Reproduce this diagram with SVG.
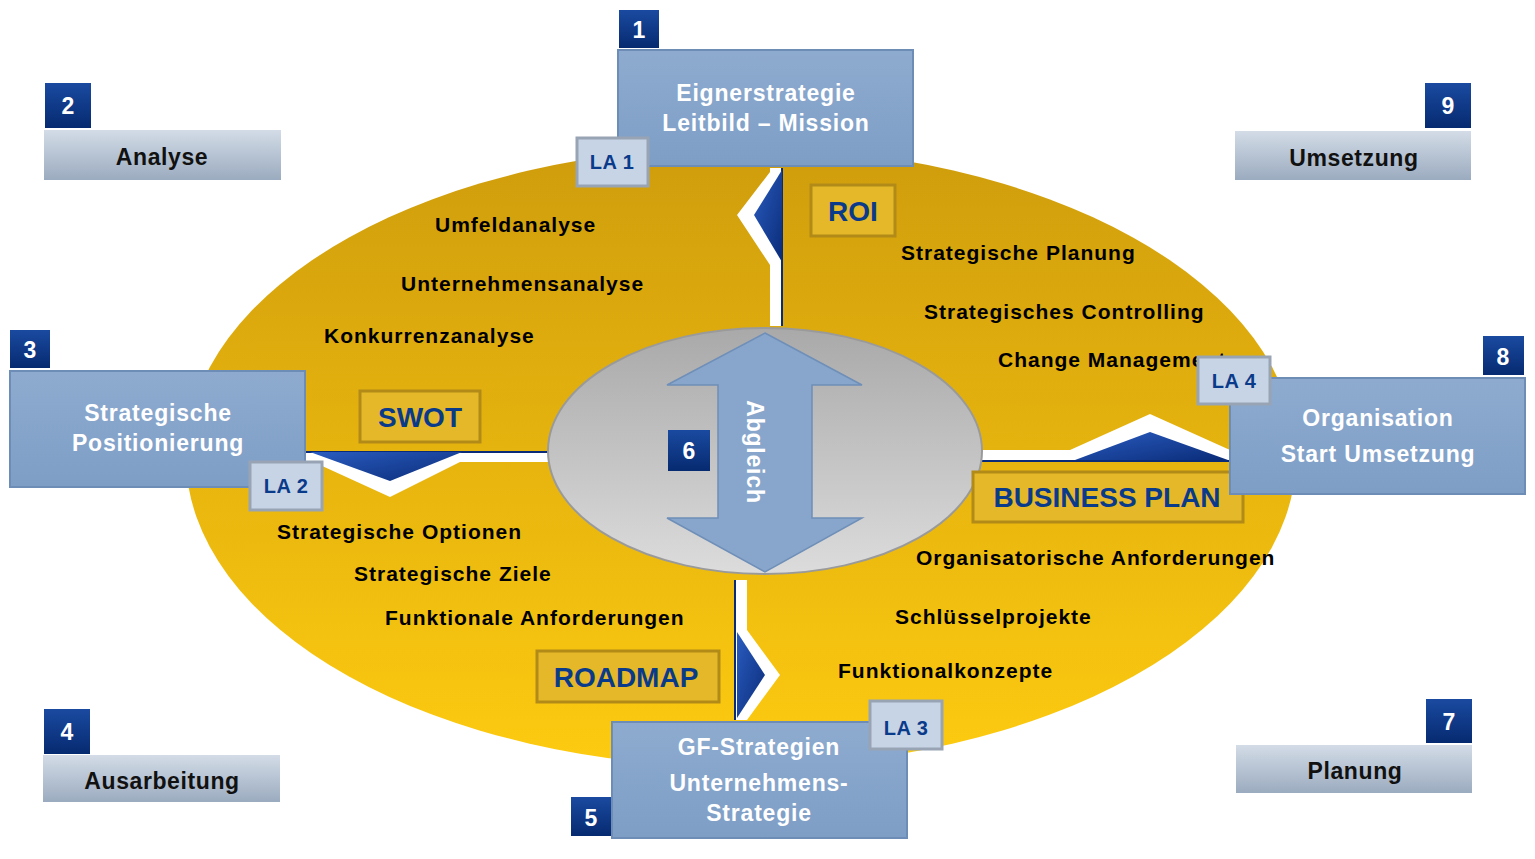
<svg xmlns="http://www.w3.org/2000/svg" width="1535" height="859" viewBox="0 0 1535 859">
<defs>
<linearGradient id="gold" x1="0" y1="0" x2="0" y2="1"><stop offset="0" stop-color="#cf9d0c"/><stop offset="1" stop-color="#fdcb10"/></linearGradient>
<linearGradient id="gray" x1="0" y1="0" x2="0" y2="1"><stop offset="0" stop-color="#a9a9a9"/><stop offset="1" stop-color="#dcdcdc"/></linearGradient>
<linearGradient id="box" x1="0" y1="0" x2="0" y2="1"><stop offset="0" stop-color="#8eabcf"/><stop offset="1" stop-color="#7e9ec6"/></linearGradient>
<linearGradient id="bar" x1="0" y1="0" x2="0" y2="1"><stop offset="0" stop-color="#d3dce7"/><stop offset="1" stop-color="#9babbf"/></linearGradient>
<linearGradient id="navy" x1="0" y1="0" x2="0" y2="1"><stop offset="0" stop-color="#1a4aa0"/><stop offset="1" stop-color="#062a70"/></linearGradient>
<linearGradient id="tri" x1="0" y1="0" x2="1" y2="1"><stop offset="0" stop-color="#2a5cc0"/><stop offset="1" stop-color="#0a2c78"/></linearGradient>
</defs>
<style>
.t{font-family:"Liberation Sans",Arial,sans-serif;font-weight:bold;font-size:21px;fill:#000;letter-spacing:1px}
.w{font-family:"Liberation Sans",Arial,sans-serif;font-weight:bold;font-size:23px;fill:#fff;text-anchor:middle;letter-spacing:0.8px}
.n{font-family:"Liberation Sans",Arial,sans-serif;font-weight:bold;font-size:23px;fill:#fff;text-anchor:middle}
.lbl{font-family:"Liberation Sans",Arial,sans-serif;font-weight:bold;font-size:28px;fill:#0a3a8a;text-anchor:middle}
.la{font-family:"Liberation Sans",Arial,sans-serif;font-weight:bold;font-size:20px;fill:#0a3a8a;text-anchor:middle;letter-spacing:0.5px}
.bt{font-family:"Liberation Sans",Arial,sans-serif;font-weight:bold;font-size:23px;fill:#111;text-anchor:middle;letter-spacing:0.6px}
.box{fill:url(#box);stroke:#6d8db6;stroke-width:2}
.bar{fill:url(#bar)}
.badge{fill:url(#navy)}
.labox{fill:#c6d4e6;stroke:#98a4b4;stroke-width:3}
.gbox{fill:#e5b829;stroke:#b18a18;stroke-width:3}
</style>
<g id="ring"><ellipse cx="741" cy="457" rx="555" ry="310" fill="url(#gold)"/></g>
<g id="connectors">
<polygon points="770,168 782,168 782,326 770,326 770,265 737,215 770,172" fill="#fff"/>
<line x1="782" y1="168" x2="782" y2="326" stroke="#0a2c78" stroke-width="2"/>
<polygon points="782,170 782,262 754,215" fill="url(#tri)"/>
<polygon points="305,453 548,453 548,462 460,462 390,497 320,465 305,465" fill="#fff"/>
<line x1="305" y1="452" x2="548" y2="452" stroke="#0a2c78" stroke-width="2"/>
<polygon points="310,452 462,452 390,481" fill="url(#tri)"/>
<polygon points="982,450 1070,450 1150,414 1230,450 1230,462 982,462" fill="#fff"/>
<line x1="982" y1="461" x2="1230" y2="461" stroke="#0a2c78" stroke-width="2"/>
<polygon points="1075,460 1228,460 1150,432" fill="url(#tri)"/>
<polygon points="735,580 747,580 747,630 780,675 747,720 735,720" fill="#fff"/>
<line x1="735" y1="580" x2="735" y2="720" stroke="#0a2c78" stroke-width="2"/>
<polygon points="737,632 737,718 765,675" fill="url(#tri)"/>
</g>
<g id="center">
<ellipse cx="765" cy="451" rx="217" ry="123" fill="url(#gray)" stroke="#9a9a9a" stroke-width="2"/>
<polygon points="765,333 862,385 812,385 812,518 862,518 765,572 667,518 718,518 718,385 667,385" fill="#88a6cb" stroke="#6f8fb8" stroke-width="1.5"/>
<text class="w" transform="translate(755,452) rotate(90)" dy="8" font-size="24">Abgleich</text>
</g>
<g id="n6"><rect class="badge" x="668" y="430" width="42" height="41"/><text class="n" x="689" y="459">6</text></g>
<g id="texts">
<text class="t" x="435" y="232">Umfeldanalyse</text>
<text class="t" x="401" y="291">Unternehmensanalyse</text>
<text class="t" x="324" y="343">Konkurrenzanalyse</text>
<text class="t" x="901" y="260">Strategische Planung</text>
<text class="t" x="924" y="319">Strategisches Controlling</text>
<text class="t" x="998" y="367">Change Management</text>
<text class="t" x="277" y="539">Strategische Optionen</text>
<text class="t" x="354" y="581">Strategische Ziele</text>
<text class="t" x="385" y="625">Funktionale Anforderungen</text>
<text class="t" x="916" y="565">Organisatorische Anforderungen</text>
<text class="t" x="895" y="624">Schlüsselprojekte</text>
<text class="t" x="838" y="678">Funktionalkonzepte</text>
</g>
<g id="roi"><rect class="gbox" x="811" y="185" width="84" height="51"/><text class="lbl" x="853" y="221">ROI</text></g>
<g id="swot"><rect class="gbox" x="360" y="391" width="120" height="51"/><text class="lbl" x="420" y="427">SWOT</text></g>
<g id="bp"><rect class="gbox" x="973" y="472" width="270" height="50"/><text class="lbl" x="1107" y="507">BUSINESS  PLAN</text></g>
<g id="roadmap"><rect class="gbox" x="537" y="651" width="182" height="51"/><text class="lbl" x="626" y="687">ROADMAP</text></g>
<g id="n1">
<rect class="box" x="618" y="50" width="295" height="116"/>
<text class="w" x="766" y="101">Eignerstrategie</text><text class="w" x="766" y="131">Leitbild – Mission</text>
<rect class="badge" x="619" y="10" width="40" height="38"/><text class="n" x="639" y="38">1</text>
<rect class="labox" x="577" y="138" width="71" height="48"/><text class="la" x="612" y="169">LA 1</text>
</g>
<g id="n3">
<rect class="box" x="10" y="371" width="295" height="116"/>
<text class="w" x="158" y="421">Strategische</text><text class="w" x="158" y="451">Positionierung</text>
<rect class="badge" x="10" y="330" width="40" height="38"/><text class="n" x="30" y="358">3</text>
<rect class="labox" x="250" y="462" width="72" height="48"/><text class="la" x="286" y="493">LA 2</text>
</g>
<g id="n8">
<rect class="box" x="1230" y="378" width="295" height="116"/>
<text class="w" x="1378" y="426">Organisation</text><text class="w" x="1378" y="462">Start Umsetzung</text>
<rect class="badge" x="1483" y="336" width="41" height="39"/><text class="n" x="1503" y="365">8</text>
<rect class="labox" x="1198" y="357" width="72" height="47"/><text class="la" x="1234" y="388">LA 4</text>
</g>
<g id="n5">
<rect class="box" x="612" y="722" width="295" height="116"/>
<text class="w" x="759" y="755">GF-Strategien</text><text class="w" x="759" y="791">Unternehmens-</text><text class="w" x="759" y="821">Strategie</text>
<rect class="badge" x="571" y="797" width="40" height="39"/><text class="n" x="591" y="826">5</text>
<rect class="labox" x="870" y="701" width="72" height="48"/><text class="la" x="906" y="735">LA 3</text>
</g>
<g id="n2"><rect class="bar" x="44" y="130" width="237" height="50"/><text class="bt" x="162" y="165">Analyse</text><rect class="badge" x="45" y="83" width="46" height="45"/><text class="n" x="68" y="114">2</text></g>
<g id="n9"><rect class="bar" x="1235" y="131" width="236" height="49"/><text class="bt" x="1354" y="166">Umsetzung</text><rect class="badge" x="1425" y="83" width="46" height="45"/><text class="n" x="1448" y="114">9</text></g>
<g id="n4"><rect class="bar" x="43" y="755" width="237" height="47"/><text class="bt" x="162" y="789">Ausarbeitung</text><rect class="badge" x="44" y="709" width="46" height="45"/><text class="n" x="67" y="740">4</text></g>
<g id="n7"><rect class="bar" x="1236" y="745" width="236" height="48"/><text class="bt" x="1355" y="779">Planung</text><rect class="badge" x="1426" y="699" width="46" height="44"/><text class="n" x="1449" y="730">7</text></g>
</svg>
